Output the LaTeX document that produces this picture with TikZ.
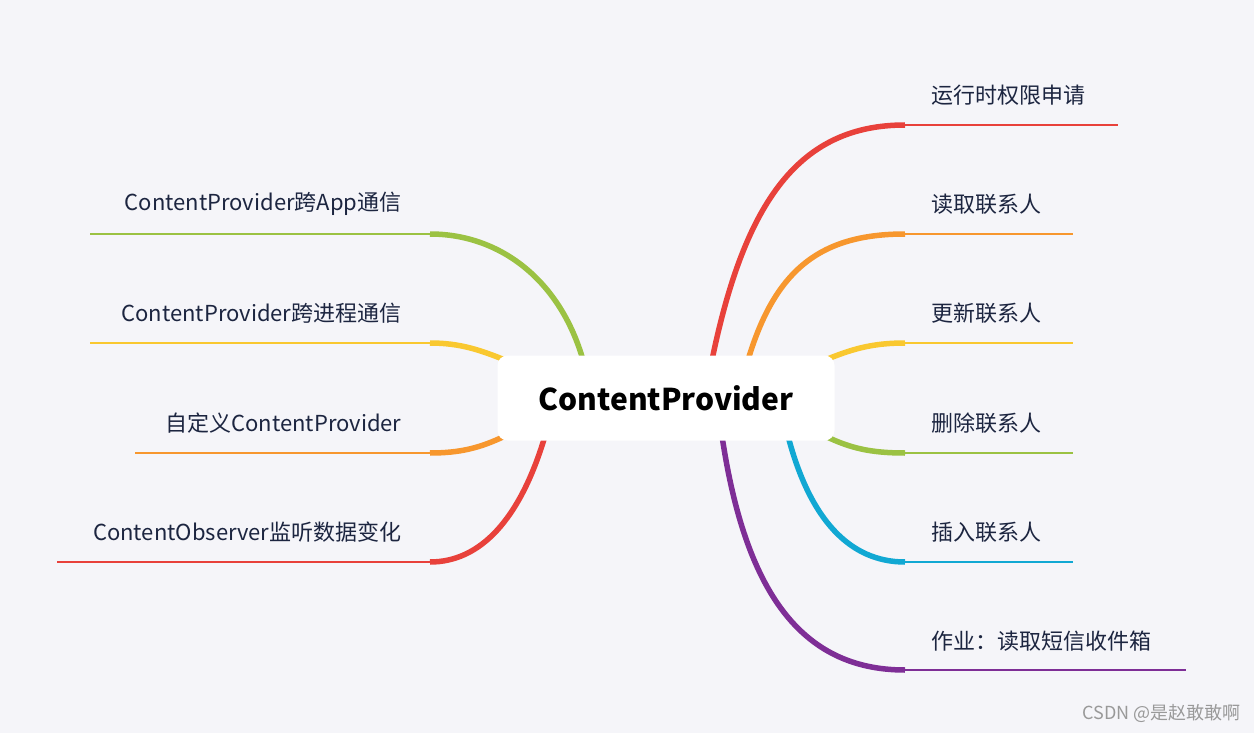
\documentclass[tikz,border=0pt]{standalone}
\usepackage{fontspec}
\setmainfont{Noto Sans CJK SC}
\definecolor{bg}{HTML}{F5F5F9}
\definecolor{txt}{HTML}{1C2540}
\definecolor{cR}{HTML}{E8413B}
\definecolor{cO}{HTML}{F7972E}
\definecolor{cY}{HTML}{F9C830}
\definecolor{cG}{HTML}{9BC243}
\definecolor{cC}{HTML}{11A8D3}
\definecolor{cP}{HTML}{7E2E96}
\begin{document}
\begin{tikzpicture}[x=1pt,y=-1pt,
  curve/.style={line width=5.5pt},
  stem/.style={line width=2pt},
  rlab/.style={anchor=west,text=txt,font=\fontsize{22}{22}\selectfont},
  llab/.style={anchor=east,text=txt,font=\fontsize{22}{22}\selectfont}]
\fill[bg] (0,0) rectangle (1254,733);
\useasboundingbox (0,0) rectangle (1254,733);
\coordinate (r1) at (905,125); \coordinate (r1e) at (1118,125);
\coordinate (r2) at (905,234); \coordinate (r2e) at (1073,234);
\coordinate (r3) at (905,343); \coordinate (r3e) at (1073,343);
\coordinate (r4) at (905,453); \coordinate (r4e) at (1073,453);
\coordinate (r5) at (905,562); \coordinate (r5e) at (1073,562);
\coordinate (r6) at (905,670); \coordinate (r6e) at (1186,670);
\coordinate (l1) at (430,234); \coordinate (l1e) at (90,234);
\coordinate (l2) at (430,343); \coordinate (l2e) at (90,343);
\coordinate (l3) at (430,453); \coordinate (l3e) at (135,453);
\coordinate (l4) at (430,562); \coordinate (l4e) at (57,562);
\draw[cR,curve] (712,360) .. controls (745,200) and (800,125) .. (r1);
\draw[cR,stem] (r1) -- (r1e);
\draw[cO,curve] (748,360) .. controls (775,270) and (820,234) .. (r2);
\draw[cO,stem] (r2) -- (r2e);
\draw[cY,curve] (825,360) .. controls (850,350) and (870,343) .. (r3);
\draw[cY,stem] (r3) -- (r3e);
\draw[cG,curve] (825,436) .. controls (850,448) and (870,453) .. (r4);
\draw[cG,stem] (r4) -- (r4e);
\draw[cC,curve] (788,436) .. controls (810,520) and (850,562) .. (r5);
\draw[cC,stem] (r5) -- (r5e);
\draw[cP,curve] (722,436) .. controls (745,590) and (800,670) .. (r6);
\draw[cP,stem] (r6) -- (r6e);
\draw[cG,curve] (583,360) .. controls (560,280) and (500,234) .. (l1);
\draw[cG,stem] (l1) -- (l1e);
\draw[cY,curve] (505,360) .. controls (480,350) and (460,343) .. (l2);
\draw[cY,stem] (l2) -- (l2e);
\draw[cO,curve] (505,436) .. controls (480,448) and (460,453) .. (l3);
\draw[cO,stem] (l3) -- (l3e);
\draw[cR,curve] (545,436) .. controls (520,520) and (480,562) .. (l4);
\draw[cR,stem] (l4) -- (l4e);
\node[fill=white,rounded corners=10pt,minimum width=337pt,minimum height=85pt,text=black,font=\fontsize{30}{30}\selectfont\bfseries] (c) at (666,398) {ContentProvider};
\node[rlab] (t1) at (928,95) {运行时权限申请};
\node[rlab] (t2) at (928,204) {读取联系人};
\node[rlab] (t3) at (928,313) {更新联系人};
\node[rlab] (t4) at (928,423) {删除联系人};
\node[rlab] (t5) at (928,532) {插入联系人};
\node[rlab] (t6) at (928,641) {作业：读取短信收件箱};
\node[llab] (s1) at (405,204) {ContentProvider跨App通信};
\node[llab] (s2) at (405,313) {ContentProvider跨进程通信};
\node[llab] (s3) at (405,423) {自定义ContentProvider};
\node[llab] (s4) at (405,532) {ContentObserver监听数据变化};
\node[anchor=east,text=gray!80,font=\fontsize{18}{18}\selectfont] (w) at (1244,713) {CSDN @是赵敢敢啊};
\end{tikzpicture}
\end{document}
